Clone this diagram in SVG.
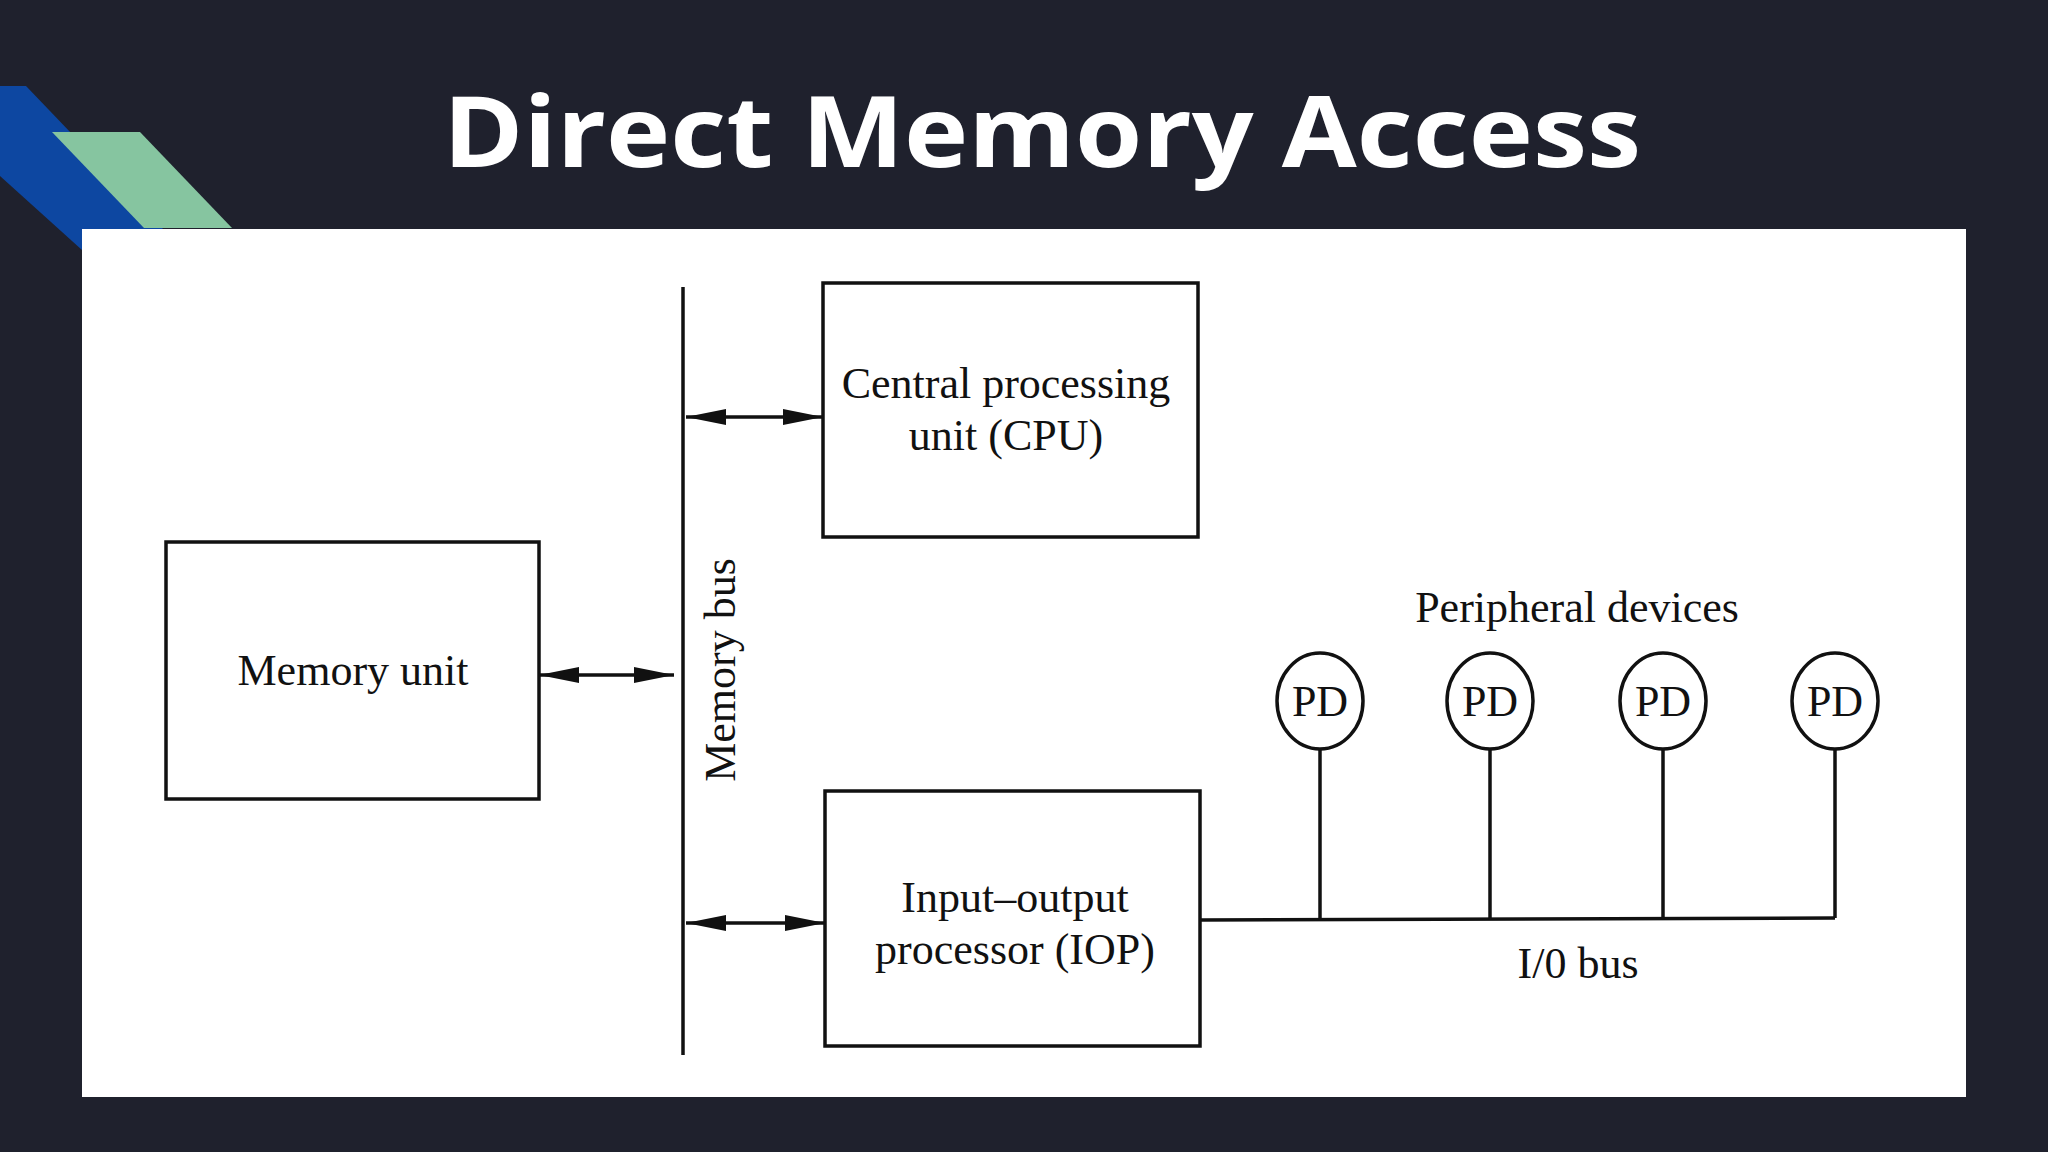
<svg xmlns="http://www.w3.org/2000/svg" width="2048" height="1152" viewBox="0 0 2048 1152">
<style>
.t{font-family:"Liberation Serif",serif;font-size:44px;fill:#111;text-anchor:middle}
.ln{stroke:#111;stroke-width:3.5;fill:none}
.bx{stroke:#111;stroke-width:3.5;fill:#fff}
</style>
<rect width="2048" height="1152" fill="#1f212d"/>
<polygon points="0,86 26,86 163,229 82,250 0,176" fill="#0d47a1"/>
<polygon points="52,132 140,132 232,228 144,228" fill="#86c5a0"/>
<text x="1042" y="167" font-family="Open Sans,sans-serif" font-weight="bold" font-size="98" fill="#fff" text-anchor="middle" textLength="1198" lengthAdjust="spacingAndGlyphs">Direct Memory Access</text>
<rect x="82" y="229" width="1884" height="868" fill="#fff"/>
<g id="connectors">
<line class="ln" x1="683" y1="287" x2="683" y2="1055"/>
<g stroke="#111" stroke-width="3.5">
<line x1="686" y1="417" x2="823" y2="417"/>
<line x1="539" y1="675" x2="674" y2="675"/>
<line x1="686" y1="923" x2="825" y2="923"/>
</g>
<g fill="#111">
<polygon points="686,417 726,409 726,425"/><polygon points="823,417 783,409 783,425"/>
<polygon points="539,675 579,667 579,683"/><polygon points="674,675 634,667 634,683"/>
<polygon points="686,923 726,915 726,931"/><polygon points="825,923 785,915 785,931"/>
</g>
<polyline class="ln" points="1200,920 1835,918"/>
<line class="ln" x1="1320" y1="749" x2="1320" y2="920"/>
<line class="ln" x1="1490" y1="749" x2="1490" y2="920"/>
<line class="ln" x1="1663" y1="749" x2="1663" y2="920"/>
<line class="ln" x1="1835" y1="749" x2="1835" y2="918"/>
</g>
<g id="cpu"><rect class="bx" x="823" y="283" width="375" height="254"/>
<text class="t" x="1006" y="398">Central processing</text><text class="t" x="1006" y="450">unit (CPU)</text></g>
<g id="mem"><rect class="bx" x="166" y="542" width="373" height="257"/>
<text class="t" x="353" y="685">Memory unit</text></g>
<g id="iop"><rect class="bx" x="825" y="791" width="375" height="255"/>
<text class="t" x="1015" y="912">Input–output</text><text class="t" x="1015" y="964">processor (IOP)</text></g>
<g id="busl"><text class="t" transform="translate(735,670) rotate(-90)">Memory bus</text></g>
<g id="pd1"><ellipse class="bx" cx="1320" cy="701" rx="43" ry="48"/><text class="t" x="1320" y="716">PD</text></g>
<g id="pd2"><ellipse class="bx" cx="1490" cy="701" rx="43" ry="48"/><text class="t" x="1490" y="716">PD</text></g>
<g id="pd3"><ellipse class="bx" cx="1663" cy="701" rx="43" ry="48"/><text class="t" x="1663" y="716">PD</text></g>
<g id="pd4"><ellipse class="bx" cx="1835" cy="701" rx="43" ry="48"/><text class="t" x="1835" y="716">PD</text></g>
<text class="t" x="1577" y="622">Peripheral devices</text>
<text class="t" x="1578" y="978">I/0 bus</text>
</svg>
